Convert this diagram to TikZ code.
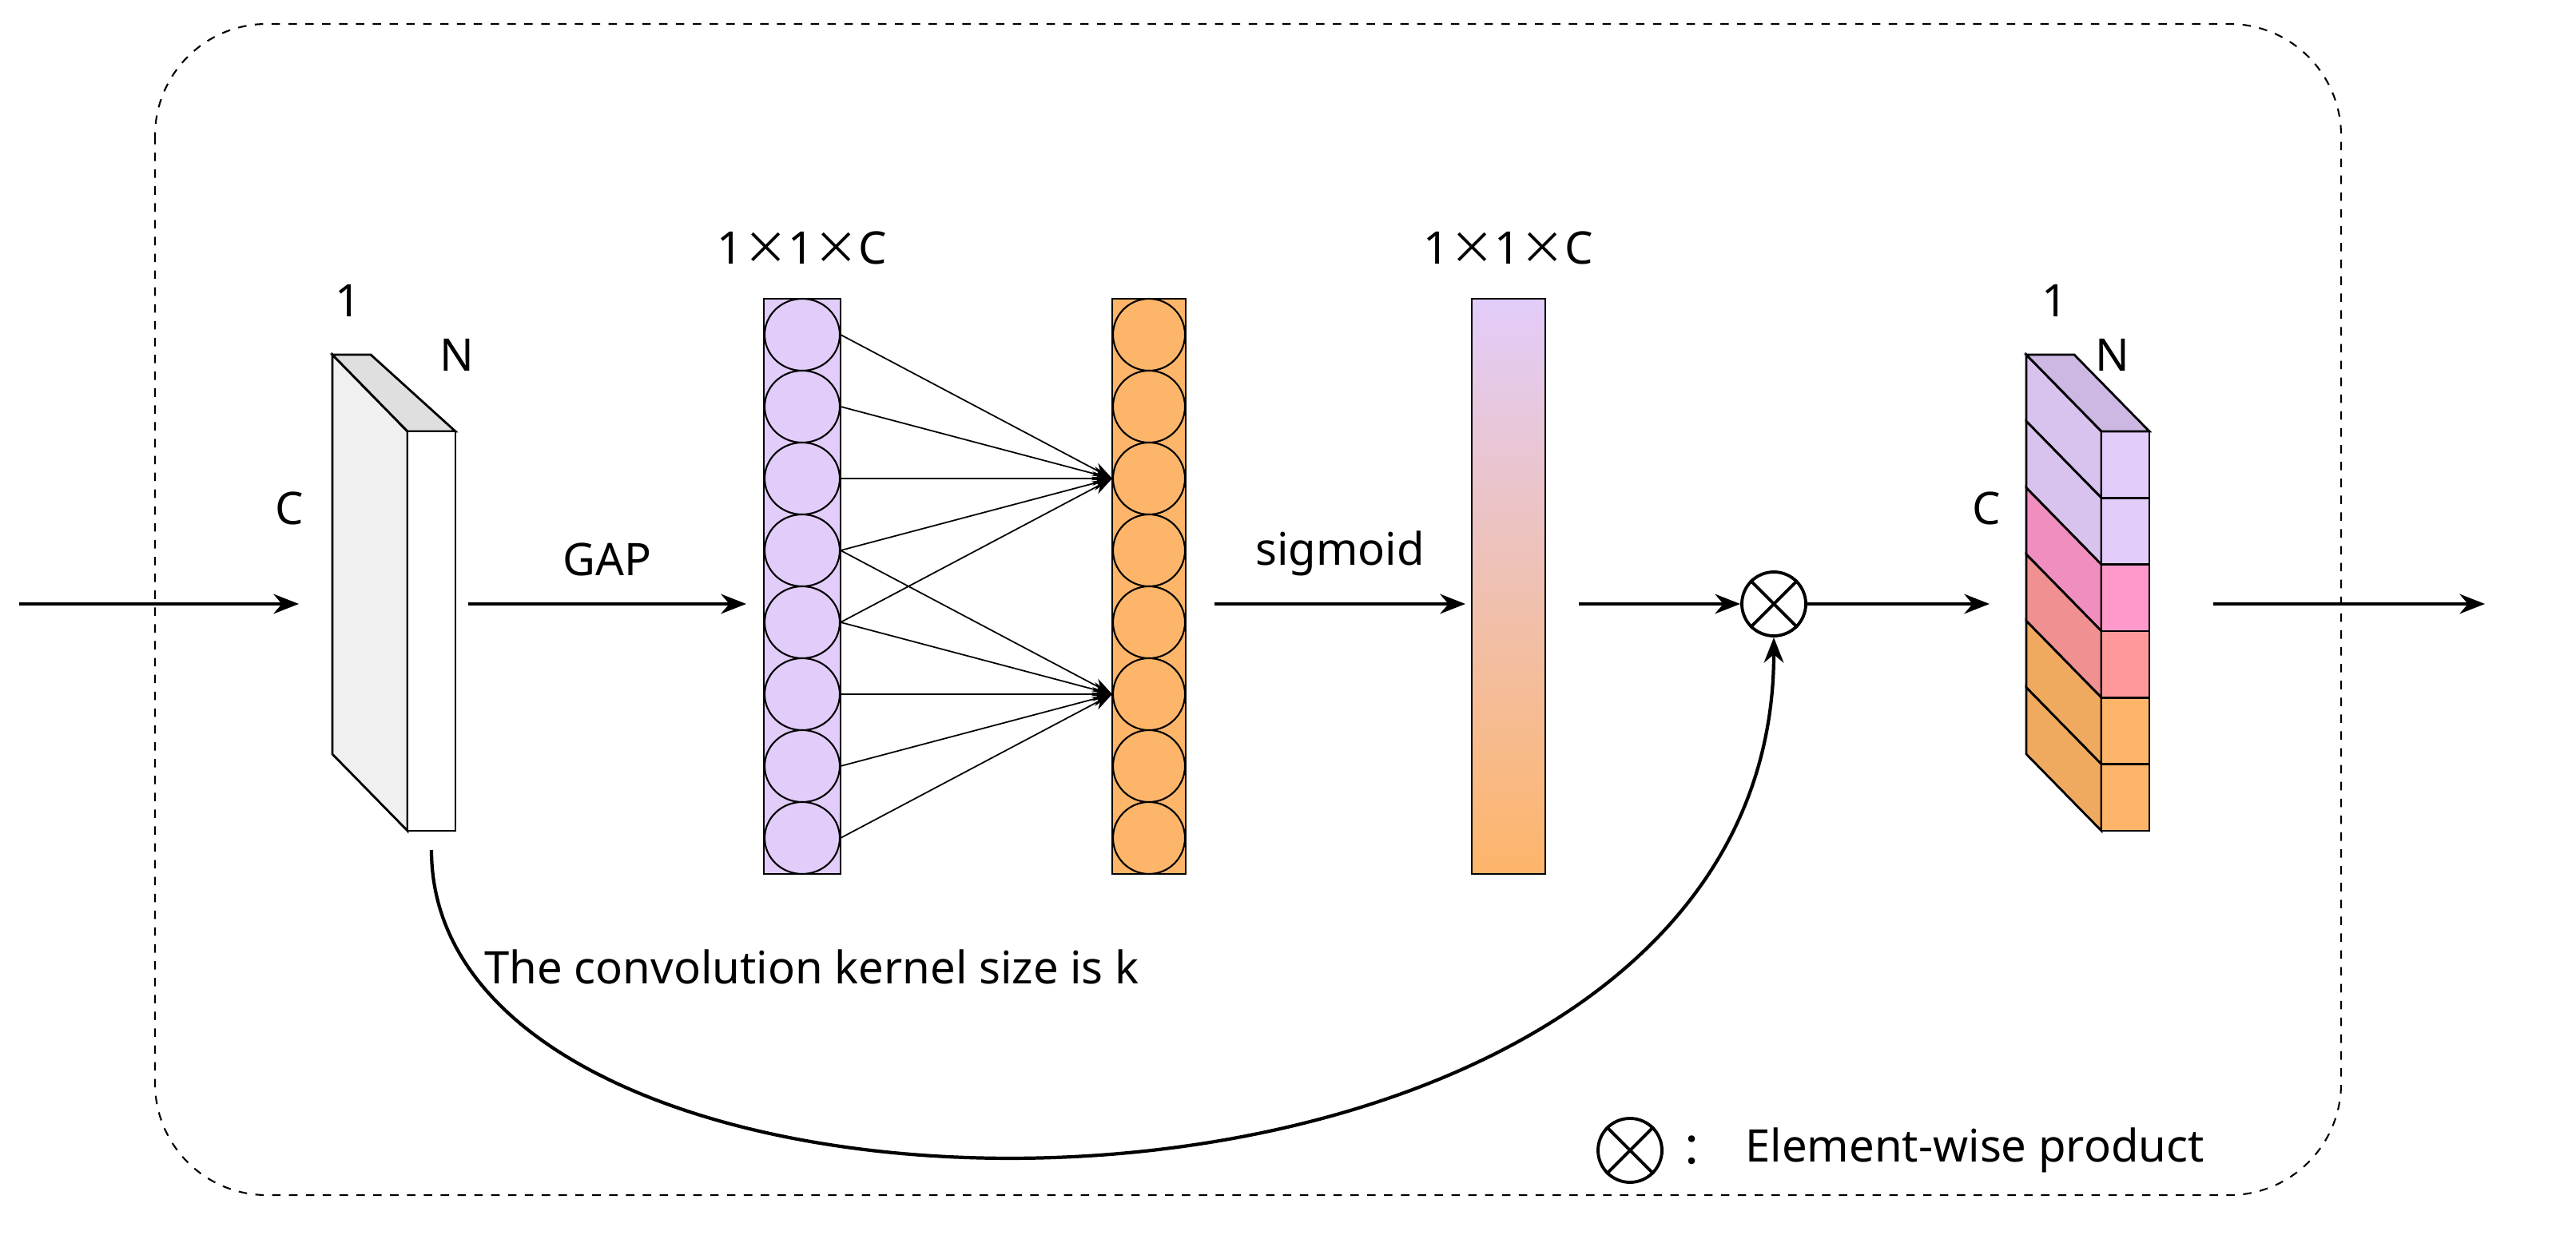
\documentclass[tikz,border=0pt]{standalone}
\usepackage{fontspec}
\setmainfont{Noto Sans}
\newfontfamily\cjk{Noto Sans CJK SC}
\usetikzlibrary{arrows.meta,shapes.geometric}
\definecolor{lav}{HTML}{E2CCFA}
\definecolor{lavs}{HTML}{D8C2EE}
\definecolor{lavt}{HTML}{CDB8E4}
\definecolor{org}{HTML}{FDB56A}
\definecolor{orgs}{HTML}{F0AA60}
\definecolor{pnk}{HTML}{FF99CC}
\definecolor{pnks}{HTML}{F08EC0}
\definecolor{red}{HTML}{FF9999}
\definecolor{reds}{HTML}{F09090}
\begin{document}
\begin{tikzpicture}[x=0.02cm,y=-0.02cm,
  every node/.style={font=\fontsize{16}{19}\selectfont},
  ln/.style={line width=0.8pt},
  flow/.style={line width=1.2pt,-{Stealth[length=9pt,width=7pt]}},
  fc/.style={line width=0.5pt,-{Stealth[length=7pt,width=5pt]}},
  otimes/.style={circle,draw,line width=1.1pt,minimum size=40*0.02cm,inner sep=0pt}]
\useasboundingbox (0,0) rectangle (1612,783);
\draw[dashed,line width=0.6pt,rounded corners=70*0.02cm] (97,15) rectangle (1465,748);
% left block
\draw[ln,fill=gray!12] (208,222) -- (255,270) -- (255,520) -- (208,472) -- cycle;
\draw[ln,fill=gray!25] (208,222) -- (232,222) -- (285,270) -- (255,270) -- cycle;
\draw[ln,fill=white] (255,270) rectangle (285,520);
\coordinate (lin) at (187,378);
\coordinate (lout) at (293,378);
\coordinate (lbot) at (270,532);
\node at (218,188) {1};
\node at (286,222) {N};
\node at (181,318) {C};
\coordinate (start) at (12,378);
\draw[flow] (start) -- (lin);
% purple column
\draw[ln,fill=lav] (478,187) rectangle (526,547);
\foreach \i in {0,...,7}{
  \node[draw,ellipse,line width=0.6pt,fill=lav,minimum width=47*0.02cm,minimum height=45*0.02cm,inner sep=0pt] (p\i) at (502,209.5+45*\i) {};
}
\draw[ln,fill=org] (696,187) rectangle (742,547);
\foreach \i in {0,...,7}{
  \node[draw,ellipse,line width=0.6pt,fill=org,minimum width=45*0.02cm,minimum height=45*0.02cm,inner sep=0pt] (o\i) at (719,209.5+45*\i) {};
}
\foreach \i in {0,...,4}{\draw[fc] (p\i.east) -- (o2.west);}
\foreach \i in {3,...,7}{\draw[fc] (p\i.east) -- (o5.west);}
\node at (502,155) {1{\cjk ×}1{\cjk ×}C};
\coordinate (pin) at (467,378);
\draw[flow] (lout) -- node[above=6pt] {GAP} (pin);
% gradient bar
\shade[top color=lav,bottom color=org] (921,187) rectangle (967,547);
\draw[ln] (921,187) rectangle (967,547);
\node at (944,155) {1{\cjk ×}1{\cjk ×}C};
\coordinate (oout) at (760,378);
\coordinate (gin) at (917,378);
\draw[flow] (oout) -- node[above=6pt] {sigmoid} (gin);
\node[otimes] (mul) at (1110,378) {};
\draw[line width=1.1pt] (mul.north west) -- (mul.south east) (mul.north east) -- (mul.south west);
\coordinate (gout) at (988,378);
\draw[flow] (gout) -- (mul);
% right block
\def\h{41.667}
\foreach \i/\cf/\cs in {0/lav/lavs,1/lav/lavs,2/pnk/pnks,3/red/reds,4/org/orgs,5/org/orgs}{
  \draw[ln,fill=\cs] (1268,222+\h*\i) -- (1315,270+\h*\i) -- (1315,270+\h*\i+\h) -- (1268,222+\h*\i+\h) -- cycle;
  \draw[ln,fill=\cf] (1315,270+\h*\i) rectangle (1345,270+\h*\i+\h);
}
\draw[ln,fill=lavt] (1268,222) -- (1298,222) -- (1345,270) -- (1315,270) -- cycle;
\node at (1286,188) {1};
\node at (1322,222) {N};
\node at (1243,318) {C};
\coordinate (rin) at (1245,378);
\coordinate (rout) at (1385,378);
\coordinate (end) at (1555,378);
\draw[flow] (mul) -- (rin);
\draw[flow] (rout) -- (end);
% skip curve
\draw[flow] (lbot) .. controls (270,807) and (1110,807) .. (mul.south);
\node at (508,605) {The convolution kernel size is k};
% legend
\node[otimes] (leg) at (1020,720) {};
\draw[line width=1.1pt] (leg.north west) -- (leg.south east) (leg.north east) -- (leg.south west);
\node at (1066,720) {\cjk ：};
\node[anchor=west] at (1086,720) {Element-wise product};
\end{tikzpicture}
\end{document}
